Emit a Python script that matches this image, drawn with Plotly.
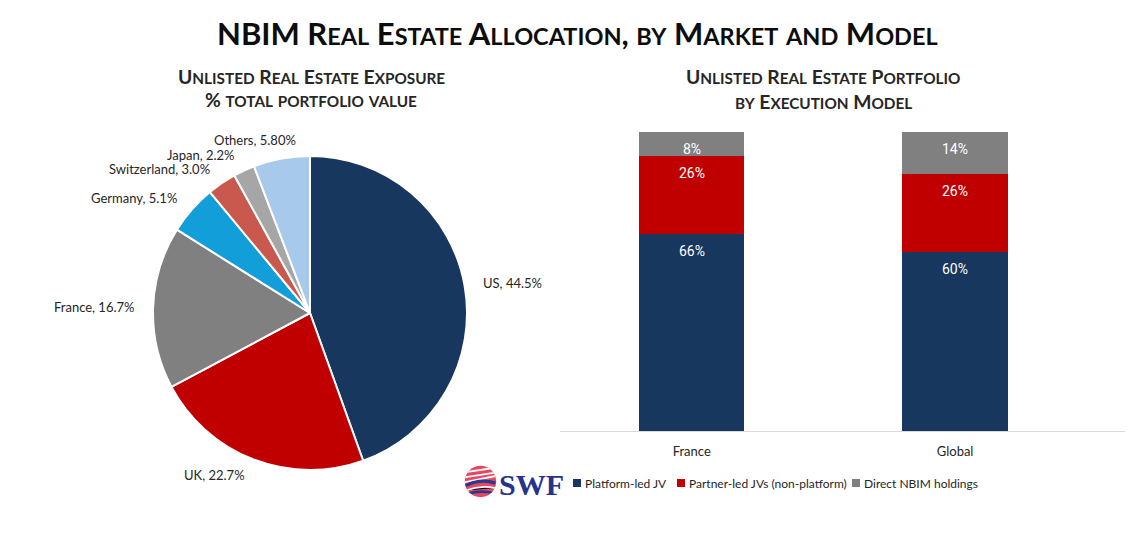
import base64
import math
import plotly.graph_objects as go

# ---------------- data ----------------
markets = ["US", "UK", "France", "Germany", "Switzerland", "Japan", "Others"]
market_share = [44.5, 22.7, 16.7, 5.1, 3.0, 2.2, 5.8]
market_share_text = ["44.5%", "22.7%", "16.7%", "5.1%", "3.0%", "2.2%", "5.80%"]
market_colors = ["#17375E", "#C00000", "#808080", "#129ED8", "#C9584E", "#A6A6A6", "#A7CAEC"]

regions = ["France", "Global"]
series_names = ["Platform-led JV", "Partner-led JVs (non-platform)", "Direct NBIM holdings"]
platform_led = [66, 60]
partner_led = [26, 26]
direct_nbim = [8, 14]
series_values = [platform_led, partner_led, direct_nbim]
series_colors = ["#17375E", "#C00000", "#808080"]

W, H = 1141, 538
LATO = "Lato, 'Noto Sans', sans-serif"
BARFONT = "Roboto, 'Liberation Sans', sans-serif"

# legend layout (pixel x of each entry's swatch)
legend_x = [573, 677, 852]
legend_y = 483


def smallcaps(s, small):
    out, buf, mode = [], "", None

    def flush(b, m):
        if not b:
            return
        if m == "s":
            out.append(f"<span style='font-size:{small}px'>{b.upper()}</span>")
        else:
            out.append(b)

    for ch in s:
        m = "s" if ch.islower() else "b"
        if m != mode:
            flush(buf, mode)
            buf, mode = "", m
        buf += ch
    flush(buf, mode)
    return "".join(out)


fig = go.Figure()

# ---------------- pie ----------------
cx, cy, r = 310, 313, 157
fig.add_trace(go.Pie(
    labels=markets,
    values=market_share,
    textinfo="none",
    marker=dict(colors=market_colors, line=dict(color="white", width=2)),
    sort=False,
    direction="clockwise",
    rotation=0,
    showlegend=False,
    hoverinfo="label+percent",
    domain=dict(x=[(cx - r) / W, (cx + r) / W], y=[1 - (cy + r) / H, 1 - (cy - r) / H]),
))

annotations = []
shapes = []
# pie data labels, placed radially at each slice's mid-angle
label_r = r + 17
total = sum(market_share)
cum = 0.0
for name, v, t in zip(markets, market_share, market_share_text):
    theta = 2 * math.pi * (cum + v / 2) / total
    cum += v
    s, c = math.sin(theta), math.cos(theta)
    px = cx + label_r * s
    py = cy - label_r * c
    near_top = abs(s) < 0.3
    annotations.append(dict(
        x=px / W, y=1 - py / H, xref="paper", yref="paper", showarrow=False,
        text=f"{name}, {t}", xanchor="left" if s > 0 else "right", yanchor="middle",
        xshift=20 if near_top else 0, yshift=2 if near_top else 0,
        font=dict(family=LATO, size=13, color="#262626"),
    ))

# ---------------- stacked bars ----------------
for name, vals, col in zip(series_names, series_values, series_colors):
    fig.add_trace(go.Bar(
        x=regions, y=vals, name=name, marker=dict(color=col, line=dict(width=0)),
        width=0.4, xaxis="x", yaxis="y", showlegend=False,
    ))

for i, reg in enumerate(regions):
    base = 0
    for vals in series_values:
        top = base + vals[i]
        annotations.append(dict(
            x=reg, y=top, xref="x", yref="y", text=f"{vals[i]}%", showarrow=False,
            yanchor="middle", yshift=-17,
            font=dict(family=BARFONT, size=14, color="white"),
        ))
        base = top

# legend (swatch + label)
for name, col, lx in zip(series_names, series_colors, legend_x):
    shapes.append(dict(
        type="rect", xref="paper", yref="paper",
        x0=lx / W, x1=(lx + 8) / W, y0=1 - (legend_y + 4) / H, y1=1 - (legend_y - 4) / H,
        fillcolor=col, line=dict(width=0),
    ))
    annotations.append(dict(
        x=(lx + 10) / W, y=1 - legend_y / H, xref="paper", yref="paper", showarrow=False,
        text=name, xanchor="left", yanchor="middle",
        font=dict(family=LATO, size=12, color="#262626"),
    ))

# ---------------- titles ----------------
annotations.append(dict(
    x=577 / W, y=1 - 33 / H, xref="paper", yref="paper", showarrow=False,
    text="<b>" + smallcaps("NBIM Real Estate Allocation, by Market and Model", 23.5) + "</b>",
    font=dict(family=LATO, size=31, color="#0D0D0D"), xanchor="center", yanchor="middle",
))
for txt, x, y in [("Unlisted Real Estate Exposure", 311, 76),
                  ("% total portfolio value", 311, 100),
                  ("Unlisted Real Estate Portfolio", 823, 77),
                  ("by Execution Model", 823, 101)]:
    annotations.append(dict(
        x=x / W, y=1 - y / H, xref="paper", yref="paper", showarrow=False,
        text="<b>" + smallcaps(txt, 15.3) + "</b>",
        font=dict(family=LATO, size=19.3, color="#262626"), xanchor="center", yanchor="middle",
    ))

# logo wordmark
annotations.append(dict(
    x=497 / W, y=1 - 484 / H, xref="paper", yref="paper", showarrow=False,
    text="<b>SWF</b>", font=dict(family="'Liberation Serif', 'DejaVu Serif', serif", size=30, color="#26338C"),
    xanchor="left", yanchor="middle",
))

# logo emblem (image)
svg = """<svg xmlns='http://www.w3.org/2000/svg' width='40' height='40' viewBox='0 0 40 40'>
<defs><clipPath id='c'><circle cx='20' cy='20' r='19'/></clipPath></defs>
<g clip-path='url(#c)'>
<rect width='40' height='40' fill='#E8475F'/>
<path d='M0 9 L40 3 M0 15 L40 9' stroke='white' stroke-width='2.2'/>
<path d='M0 21 L40 13' stroke='white' stroke-width='2.2'/>
<path d='M2 25 Q20 16 38 22' stroke='#2B3990' stroke-width='4' fill='none'/>
<path d='M2 31 Q20 24 38 28' stroke='white' stroke-width='2'/>
<path d='M4 35 Q20 30 36 34' stroke='#2B3990' stroke-width='3.5' fill='none'/>
</g></svg>"""
logo_src = "data:image/svg+xml;base64," + base64.b64encode(svg.encode()).decode()

fig.update_layout(
    width=W, height=H,
    margin=dict(l=0, r=0, t=0, b=0),
    paper_bgcolor="white", plot_bgcolor="white",
    barmode="stack",
    showlegend=False,
    xaxis=dict(
        domain=[560 / W, 1125 / W], range=[-0.5, 1.645], showgrid=False, zeroline=False,
        showline=True, linecolor="#D9D9D9", linewidth=1, ticks="", ticklabelstandoff=8,
        tickfont=dict(family=LATO, size=13, color="#262626"), fixedrange=True,
    ),
    yaxis=dict(
        domain=[1 - 431 / H, 1 - 132 / H], range=[0, 100], visible=False, fixedrange=True,
    ),
    annotations=annotations,
    shapes=shapes,
    images=[dict(source=logo_src, xref="paper", yref="paper", x=464 / W, y=1 - 465 / H,
                 sizex=33 / W, sizey=33 / H, xanchor="left", yanchor="top", layer="above")],
)

fig.write_html("out.html")
